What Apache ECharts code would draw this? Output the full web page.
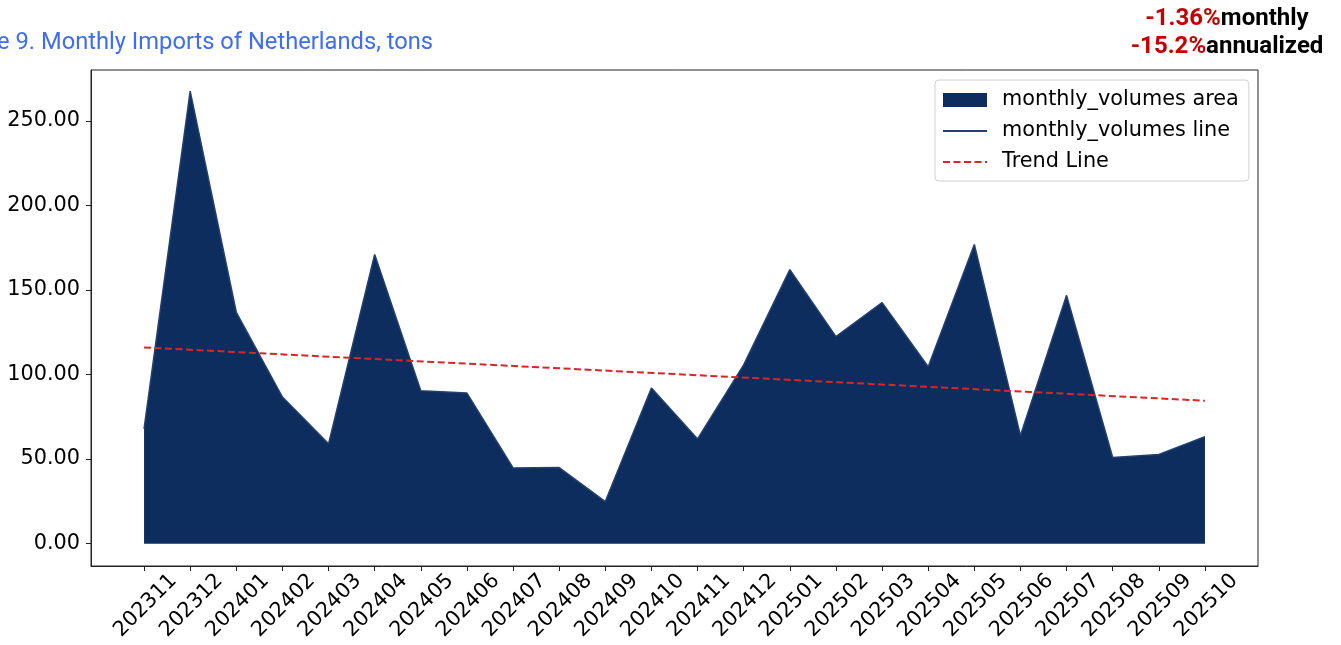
<!DOCTYPE html>
<html>
<head>
<meta charset="utf-8">
<script src="https://cdn.jsdelivr.net/npm/echarts@6/dist/echarts.min.js"></script>
<style>
html,body{margin:0;padding:0;background:#fff;}
#chart{width:1341px;height:645px;}
</style>
</head>
<body>
<div id="chart"></div>
<script>
const categories = ['202311','202312','202401','202402','202403','202404','202405','202406','202407','202408','202409','202410','202411','202412','202501','202502','202503','202504','202505','202506','202507','202508','202509','202510'];
const monthlyVolumes = [67.8,267.5,136.8,86.7,59.0,171.0,90.4,89.0,44.8,45.0,24.9,92.0,61.9,105.7,162.0,122.4,142.5,104.6,176.9,63.9,146.8,50.9,52.7,63.3];
const trendEnds = [116.0, 84.5];
const yTicks = [0,50,100,150,200,250];
const titleText = 'Figure 9. Monthly Imports of Netherlands, tons';
const monthlyPct = '-1.36%';
const annualPct = '-15.2%';

const xTicks = categories.map((c,i)=>i);
const seriesData = monthlyVolumes.map((v,i)=>[i,v]);
const trendData = [[0,trendEnds[0]],[categories.length-1,trendEnds[1]]];

const FONT = 'DejaVu Sans';
const chart = echarts.init(document.getElementById('chart'));
chart.setOption({
  animation:false,
  backgroundColor:'#fff',
  grid:{left:91,right:83,top:70,bottom:79,show:true,borderColor:'#222',borderWidth:1,backgroundColor:'transparent'},
  graphic:[
    {type:'text',x:433,y:43.5,style:{text:titleText,font:'23.7px Roboto',fill:'#3d6cf5',textAlign:'right',textVerticalAlign:'middle'}},
    {type:'text',x:1227,y:19,style:{text:'{r|'+monthlyPct+'}{b|monthly}',textAlign:'center',textVerticalAlign:'middle',
      rich:{r:{font:'bold 24px Roboto',fill:'#c80000'},b:{font:'bold 24px Roboto',fill:'#000'}}}},
    {type:'text',x:1227,y:47,style:{text:'{r|'+annualPct+'}{b|annualized}',textAlign:'center',textVerticalAlign:'middle',
      rich:{r:{font:'bold 24px Roboto',fill:'#c80000'},b:{font:'bold 24px Roboto',fill:'#000'}}}}
  ],
  legend:{
    orient:'vertical',left:935,top:80,
    borderColor:'#d0d0d0',borderWidth:1,borderRadius:4,
    padding:[9,10,8,7],itemGap:9,itemWidth:44,itemHeight:14,
    textStyle:{fontFamily:FONT,fontSize:20.8,color:'#000',lineHeight:22,padding:[0,0,0,10]},
    data:[
      {name:'monthly_volumes area',icon:'rect'},
      {name:'monthly_volumes line',itemStyle:{opacity:0},lineStyle:{width:2}},
      {name:'Trend Line',itemStyle:{opacity:0},lineStyle:{width:2}}
    ]
  },
  xAxis:{
    type:'value',min:-1.15,max:categories.length-1+1.15,
    splitLine:{show:false},
    axisLine:{show:true,onZero:false,lineStyle:{color:'#222'}},
    axisTick:{show:true,length:5,customValues:xTicks,lineStyle:{color:'#222'}},
    axisLabel:{customValues:xTicks,rotate:45,align:'center',verticalAlign:'middle',margin:41,
      fontFamily:FONT,fontSize:20.8,color:'#000',padding:[0,0,0,4],formatter:v=>categories[Math.round(v)]}
  },
  yAxis:{
    type:'value',min:-13.2,max:280.0,
    splitLine:{show:false},
    axisLine:{show:true,onZero:false,lineStyle:{color:'#222'}},
    axisTick:{show:true,length:5,customValues:yTicks,lineStyle:{color:'#222'}},
    axisLabel:{customValues:yTicks,margin:11,fontFamily:FONT,fontSize:20.8,color:'#000',formatter:v=>v.toFixed(2)}
  },
  series:[
    {name:'monthly_volumes area',type:'line',data:seriesData,symbol:'none',
      itemStyle:{color:'#0d2d5e'},lineStyle:{width:0,color:'#0d2d5e'},
      areaStyle:{color:'#0d2d5e',opacity:1,origin:0}},
    {name:'monthly_volumes line',type:'line',data:seriesData,symbol:'none',
      itemStyle:{color:'#24406f'},lineStyle:{width:1.5,color:'#24406f'}},
    {name:'Trend Line',type:'line',data:trendData,symbol:'none',
      itemStyle:{color:'#d62728'},lineStyle:{width:2,color:'#d62728',type:[7,3.5]}}
  ]
});
</script>
</body>
</html>
